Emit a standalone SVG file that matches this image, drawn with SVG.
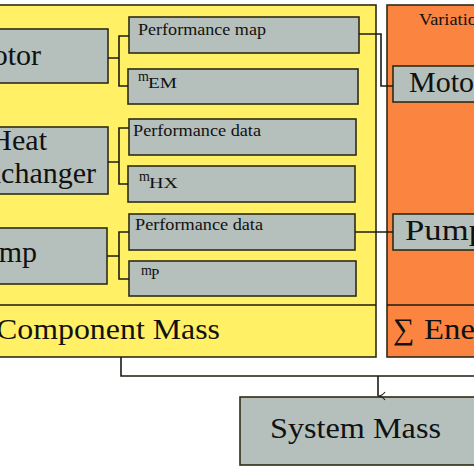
<svg xmlns="http://www.w3.org/2000/svg" width="474" height="474" viewBox="0 0 474 474">
<style>
.box{fill:#b5c0bc;stroke:#2e2c14;stroke-width:1.6}
.panelY{fill:#fff066;stroke:#2e2c14;stroke-width:1.6}
.panelO{fill:#fb8441;stroke:#2e2c14;stroke-width:1.6}
.ln{fill:none;stroke:#1e1c10;stroke-width:1.6}
.big{font-family:"Liberation Serif","Times New Roman",serif;font-size:30px;fill:#111}
.sm{font-family:"Liberation Serif","Times New Roman",serif;font-size:16px;fill:#111}
.sub{font-family:"Liberation Serif","Times New Roman",serif;font-size:14px;fill:#111}
.sub2{font-family:"Liberation Serif","Times New Roman",serif;font-size:15px;fill:#111}
</style>
<defs>
<marker id="arr" markerWidth="10" markerHeight="10" refX="5" refY="8" orient="auto" markerUnits="userSpaceOnUse" viewBox="0 0 10 10">
<path d="M1,1 Q5,4 5,8 Q5,4 9,1" fill="none" stroke="#1e1c10" stroke-width="1.2"/>
</marker>
</defs>
<rect width="474" height="474" fill="#fff"/>
<g id="component-panel">
<rect class="panelY" x="-10" y="5" width="386" height="352"/>
<line class="ln" x1="-10" y1="305" x2="376" y2="305"/>
<text class="big" x="-4" y="339" textLength="224" lengthAdjust="spacingAndGlyphs">Component Mass</text>
</g>
<g id="variation-panel">
<rect class="panelO" x="387" y="5" width="100" height="352"/>
<line class="ln" x1="387" y1="305" x2="487" y2="305"/>
<text class="sm" x="419" y="25" textLength="67" lengthAdjust="spacingAndGlyphs">Variation</text>
<text class="big" x="393" y="339">∑</text>
<text class="big" x="424" y="339" textLength="94" lengthAdjust="spacingAndGlyphs">Energy</text>
</g>
<g id="motor">
<rect class="box" x="-10" y="29" width="118" height="54"/>
<text class="big" x="41" y="65" text-anchor="end">Motor</text>
</g>
<g id="heat-exchanger">
<rect class="box" x="-10" y="127" width="118" height="67"/>
<text class="big" x="47" y="150" text-anchor="end">Heat</text>
<text class="big" x="96" y="183" text-anchor="end">Exchanger</text>
</g>
<g id="pump">
<rect class="box" x="-10" y="228" width="117" height="56"/>
<text class="big" x="37" y="262" text-anchor="end">Pump</text>
</g>
<g id="perf-map">
<rect class="box" x="129" y="17" width="230" height="36"/>
<text class="sm" x="138" y="35" textLength="128" lengthAdjust="spacingAndGlyphs">Performance map</text>
</g>
<g id="m-em">
<rect class="box" x="128" y="69" width="230" height="35"/>
<text class="sub" x="138" y="81">m</text>
<text class="sub2" x="148" y="88" textLength="29" lengthAdjust="spacingAndGlyphs">EM</text>
</g>
<g id="perf-data-hx">
<rect class="box" x="129" y="119" width="227" height="36"/>
<text class="sm" x="133" y="136" textLength="128" lengthAdjust="spacingAndGlyphs">Performance data</text>
</g>
<g id="m-hx">
<rect class="box" x="128" y="166" width="227" height="36"/>
<text class="sub" x="139" y="181">m</text>
<text class="sub2" x="149" y="188" textLength="29" lengthAdjust="spacingAndGlyphs">HX</text>
</g>
<g id="perf-data-pump">
<rect class="box" x="129" y="214" width="226" height="36"/>
<text class="sm" x="135" y="230" textLength="128" lengthAdjust="spacingAndGlyphs">Performance data</text>
</g>
<g id="m-p">
<rect class="box" x="129" y="261" width="227" height="35"/>
<text class="sub" x="141" y="275">m</text>
<text class="sub2" x="151" y="279">P</text>
</g>
<g id="motor-var">
<rect class="box" x="393" y="66" width="100" height="36"/>
<text class="big" x="409" y="92">Motor</text>
</g>
<g id="pump-var">
<rect class="box" x="393" y="214" width="100" height="36"/>
<text class="big" x="405" y="240" textLength="81" lengthAdjust="spacingAndGlyphs">Pump</text>
</g>
<g id="system-mass">
<rect class="box" x="240" y="397" width="250" height="68"/>
<text class="big" x="270" y="438" textLength="171" lengthAdjust="spacingAndGlyphs">System Mass</text>
</g>
<g id="connectors">
<path class="ln" d="M108,58 H119 M129,36 H119 V86 H128"/>
<path class="ln" d="M108,162 H119 M129,128 H119 V184 H128"/>
<path class="ln" d="M107,256 H119 M129,232 H119 V279 H129"/>
<path class="ln" d="M359,34 H381 V86 H393"/>
<path class="ln" d="M355,232 H393"/>
<path class="ln" d="M121,357 V376 H474"/>
<path class="ln" d="M378,376 V396" marker-end="url(#arr)"/>
</g>
</svg>
